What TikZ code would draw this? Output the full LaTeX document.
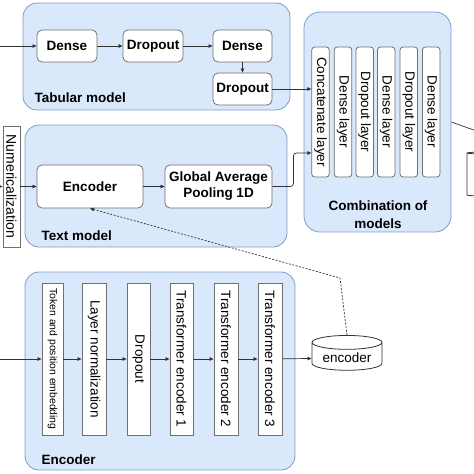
\documentclass[tikz,border=0pt]{standalone}
\usepackage{fontspec}
\setmainfont{Liberation Sans}
\usepackage{graphicx}
\usetikzlibrary{shapes.geometric, arrows.meta, positioning}
\definecolor{grpfill}{HTML}{DAE8FC}
\definecolor{grpline}{HTML}{7F9CC4}
\definecolor{boxline}{HTML}{707070}
\definecolor{wire}{HTML}{333333}
\newcommand{\vlabel}[1]{\rotatebox{-90}{#1}}

\begin{document}
\begin{tikzpicture}[
    x=1pt, y=-1pt,
    font=\fontsize{13.5}{16}\selectfont,
    group/.style={rectangle, rounded corners=14pt, draw=grpline, fill=grpfill, line width=0.8pt},
    box/.style={rectangle, rounded corners=5pt, draw=boxline, fill=white, line width=0.8pt, align=center, inner sep=0pt, font=\fontsize{13.5}{16}\selectfont\bfseries},
    vbox/.style={rectangle, draw=boxline, fill=white, line width=0.8pt, inner sep=0pt},
    grouplabel/.style={anchor=west, font=\fontsize{13.5}{16}\selectfont\bfseries},
    arr/.style={-{Triangle[length=4pt, width=3.5pt]}, draw=wire, line width=0.7pt}
]
    \useasboundingbox (0,0) rectangle (474,474);
    \clip (0,0) rectangle (474,474);

    % Tabular model
    \node[group, minimum width=267pt, minimum height=107pt] (tabular) at (156.5,56.5) {};
    \node[box, minimum width=60pt, minimum height=32pt] (dense1) at (67,46) {Dense};
    \node[box, minimum width=60pt, minimum height=32pt] (drop1) at (153,46) {Dropout};
    \node[box, minimum width=59pt, minimum height=32pt] (dense2) at (242.5,46) {Dense};
    \node[box, minimum width=59pt, minimum height=32pt] (drop2) at (242.5,89) {Dropout};
    \node[grouplabel] (tablabel) at (31,98) {Tabular model};
    \coordinate (tabin) at (0,46);
    \draw[arr] (tabin) -- (dense1);
    \draw[arr] (dense1) -- (drop1);
    \draw[arr] (drop1) -- (dense2);
    \draw[arr] (dense2) -- (drop2);

    % Combination of models
    \node[group, rounded corners=16pt, minimum width=147pt, minimum height=220pt] (comb) at (377.5,122) {};
    \node[vbox, rounded corners=3pt, minimum width=17.5pt, minimum height=130pt] (concat) at (320.5,112) {\vlabel{Concatenate layer}};
    \node[vbox, rounded corners=3pt, minimum width=17.5pt, minimum height=130pt] (cdense1) at (343,112) {\vlabel{Dense layer}};
    \node[vbox, rounded corners=3pt, minimum width=17.5pt, minimum height=130pt] (cdrop1) at (364.7,112) {\vlabel{Dropout layer}};
    \node[vbox, rounded corners=3pt, minimum width=17.5pt, minimum height=130pt] (cdense2) at (386.2,112) {\vlabel{Dense layer}};
    \node[vbox, rounded corners=3pt, minimum width=17.5pt, minimum height=130pt] (cdrop2) at (408.8,112) {\vlabel{Dropout layer}};
    \node[vbox, rounded corners=3pt, minimum width=17.5pt, minimum height=130pt] (cdense3) at (431.2,112) {\vlabel{Dense layer}};
    \node[align=center, font=\fontsize{13.5}{18}\selectfont\bfseries] (comblabel) at (378,215) {Combination of\\models};
    \draw[arr] (drop2.east) -- (drop2.east -| concat.west);

    % Output side (cut off at the edge)
    \coordinate (combout) at (482,133);
    \draw[draw=wire, line width=0.7pt] (comb.east) -- (combout);
    \node[cylinder, shape border rotate=90, aspect=0.3, draw=wire, fill=white, line width=0.8pt, minimum width=40pt, minimum height=44pt] (result) at (487,175) {};

    % Text model
    \node[group, minimum width=262pt, minimum height=122pt] (textmodel) at (156,186) {};
    \node[vbox, minimum width=17pt, minimum height=121pt] (numer) at (11.5,186.5) {\fontsize{14}{16}\selectfont\vlabel{Numericalization}};
    \node[box, minimum width=106pt, minimum height=43pt] (encbox) at (90,186.5) {Encoder};
    \node[box, minimum width=107pt, minimum height=43pt] (gap) at (218.5,186.5) {Global Average\\Pooling 1D};
    \node[grouplabel] (textlabel) at (38,236) {Text model};
    \coordinate (textin) at (0,186.5);
    \draw[arr] (textin) -- (numer);
    \draw[arr] (numer) -- (encbox);
    \draw[arr] (encbox) -- (gap);
    \draw[arr, rounded corners=3pt] (gap.east) -- ++(21,0) |- ([yshift=-41pt]concat.west);

    % Encoder
    \node[group, minimum width=270pt, minimum height=198pt] (encgroup) at (160,371) {};
    \node[vbox, minimum width=21pt, minimum height=152pt] (tok) at (52.5,359) {\fontsize{10.4}{12}\selectfont\vlabel{Token and position embedding}};
    \node[vbox, minimum width=24pt, minimum height=152pt] (lnorm) at (94,359) {\vlabel{Layer normalization}};
    \node[vbox, minimum width=23pt, minimum height=152pt] (edrop) at (138.5,359) {\vlabel{Dropout}};
    \node[vbox, minimum width=23pt, minimum height=152pt] (tenc1) at (181.5,359) {\vlabel{Transformer encoder 1}};
    \node[vbox, minimum width=24pt, minimum height=152pt] (tenc2) at (226,359) {\vlabel{Transformer encoder 2}};
    \node[vbox, minimum width=24pt, minimum height=152pt] (tenc3) at (270,359) {\vlabel{Transformer encoder 3}};
    \node[grouplabel] (enclabel) at (38,460) {Encoder};
    \node[cylinder, shape border rotate=90, aspect=0.25, draw=wire, fill=white, line width=0.8pt, minimum width=70pt, minimum height=30pt] (saved) at (347,358) {encoder};
    \coordinate (encin) at (0,359);
    \draw[arr] (encin) -- (tok);
    \draw[arr] (tok) -- (lnorm);
    \draw[arr] (lnorm) -- (edrop);
    \draw[arr] (edrop) -- (tenc1);
    \draw[arr] (tenc1) -- (tenc2);
    \draw[arr] (tenc2) -- (tenc3);
    \draw[arr] (tenc3) -- (saved);

    % Saved encoder reused in the text model
    \coordinate (bend) at (340,278);
    \draw[arr, dash pattern=on 2pt off 1.5pt] (saved.north) -- (bend) -- (encbox.south);
\end{tikzpicture}
\end{document}
